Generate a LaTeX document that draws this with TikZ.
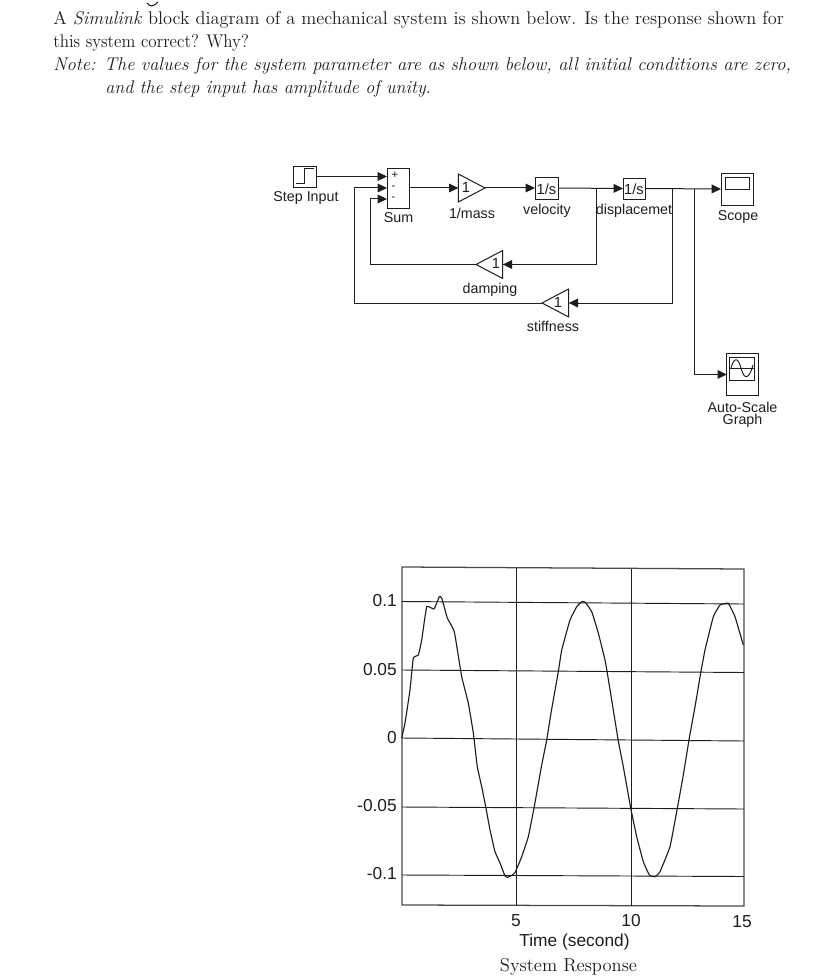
\documentclass[tikz,border=0pt]{standalone}
\usepackage{fontspec}
\usepackage{graphicx}
\usetikzlibrary{shapes.geometric,arrows.meta}
\newfontfamily\arialfont{Liberation Sans}
\definecolor{ink}{HTML}{1E1E1E}
\tikzset{
  x=0.75pt,y=-0.75pt,
  wire/.style={draw=ink,line width=0.75pt},
  flow/.style={wire,-{Triangle[length=7pt,width=6.5pt]}},
  blockbox/.style={draw=ink,line width=0.7pt,inner sep=0pt,outer sep=0pt},
  gaintri/.style={isosceles triangle,isosceles triangle stretches=true,draw=ink,line width=0.75pt,inner sep=0pt,outer sep=0pt,minimum height=20pt,minimum width=21pt,anchor=apex},
  blocktext/.style={font=\arialfont\fontsize{10.7pt}{11pt}\selectfont,text=ink,inner sep=0pt},
  inbox/.style={font=\arialfont\fontsize{11pt}{12pt}\selectfont,text=ink,inner sep=0pt},
  signtext/.style={font=\arialfont\fontsize{8.5pt}{8.5pt}\selectfont,text=ink,inner sep=0pt},
  axislabel/.style={font=\arialfont\fontsize{13pt}{14pt}\selectfont,text=ink,inner sep=0pt},
  question/.style={font=\fontsize{13.8pt}{16pt}\selectfont,text=ink,inner sep=0pt,anchor=base west},
  noteline/.style={font=\fontsize{13.8pt}{16pt}\selectfont\itshape,text=ink,inner sep=0pt,anchor=base west},
  grid line/.style={draw=ink,line width=0.7pt},
  frame line/.style={draw=ink!80,line width=0.95pt},
}
\begin{document}
\begin{tikzpicture}
\useasboundingbox[fill=white] (0,0) rectangle (838,980);
% question text
\node[question] (q1) at (53,24.5) {A \textit{Simulink} block diagram of a mechanical system is shown below. Is the response shown for};
\node[question] (q2) at (53,47.5) {\scalebox{0.925}[1]{this system correct? Why?}};
\node[noteline] (q3) at (53,71) {Note: The values for the system parameter are as shown below, all initial conditions are zero,};
\node[noteline] (q4) at (105,94) {\scalebox{0.985}[1]{and the step input has amplitude of unity.}};
\draw[ink,line width=0.8pt] (147,3) .. controls (150,7) and (153,7) .. (158,2);
% blocks
\node[blockbox,minimum width=17.25pt,minimum height=15.75pt] (step) at (304.5,176.5) {};
\draw[ink,line width=0.75pt] (296,184) -- (304.5,184) -- (304.5,169) -- (314,169);
\node[blockbox,minimum width=16.5pt,minimum height=30pt] (sum) at (398,188) {};
\node[signtext] (plus) at (395,175.5) {+};
\node[signtext] (minusa) at (393.5,187.5) {-};
\node[signtext] (minusb) at (393.5,198.5) {-};
\node[gaintri] (mass) at (485,188) {};
\node[inbox] (massk) at (466,187) {1};
\node[blockbox,minimum width=17.25pt,minimum height=16.5pt] (vel) at (546.5,188) {};
\node[inbox] (velk) at (546.5,189) {1/s};
\node[blockbox,minimum width=16.5pt,minimum height=15.75pt] (disp) at (634,188.5) {};
\node[inbox] (dispk) at (634,189.5) {1/s};
\node[gaintri,shape border rotate=180] (damp) at (476,264.5) {};
\node[inbox] (dampk) at (496,263) {1};
\node[gaintri,shape border rotate=180] (stiff) at (542,303) {};
\node[inbox] (stiffk) at (558,302) {1};
\node[blockbox,line width=0.7pt,minimum width=24pt,minimum height=24pt] (scope) at (737,189) {};
\draw[ink,line width=0.6pt] (725,177) rectangle (749,189);
\node[blockbox,line width=0.75pt,minimum width=23.5pt,minimum height=32pt] (graph) at (742.5,374.5) {};
\draw[ink,line width=0.65pt] (729,357) rectangle (754,380);
\draw[ink,line width=0.6pt] (729,368.5) -- (754,368.5);
\draw[ink,line width=0.7pt] (731,368) .. controls (734,357) and (738,357) .. (741,368) .. controls (744,380) and (749,380) .. (753,365);
% block labels
\node[blocktext] (lstep) at (306,198) {Step Input};
\node[blocktext] (lsum) at (398.5,217.5) {Sum};
\node[blocktext] (lmass) at (472,213.5) {1/mass};
\node[blocktext] (lvel) at (547,210.5) {velocity};
\node[blocktext] (ldisp) at (634,210.5) {displacemet};
\node[blocktext] (lscope) at (738,217) {Scope};
\node[blocktext] (ldamp) at (490,289.5) {damping};
\node[blocktext] (lstiff) at (553,326) {stiffness};
\node[blocktext] (lauto) at (742.5,407) {Auto-Scale};
\node[blocktext] (lgraph) at (742.5,421) {Graph};
% connector points
\coordinate (in1) at (387,176.5);
\coordinate (in2) at (387,188);
\coordinate (in3) at (387,199);
\coordinate (bv) at (596,188);
\coordinate (bd) at (672,189);
\coordinate (bg) at (694,189);
\coordinate (cd) at (370.5,199);
\coordinate (cs) at (354.5,188);
% connectors
\draw[flow] (step.east) -- (in1);
\draw[flow] (sum.east) -- (mass.lower side);
\draw[flow] (mass.apex) -- (vel.west);
\draw[flow] (vel.east) -- (disp.west);
\draw[flow] (disp.east) -- (scope.west);
\draw[flow] (bv) |- (damp.lower side);
\draw[flow] (bd) |- (stiff.lower side);
\draw[flow] (bg) |- (graph.west);
\draw[flow] (damp.apex) -| (cd) -- (in3);
\draw[flow] (stiff.apex) -| (cs) -- (in2);
% plot
\coordinate (ptl) at (402,567);
\coordinate (ptr) at (744,569);
\coordinate (pbl) at (402,905);
\coordinate (pbr) at (744,906);
\draw[frame line] (ptl) -- (ptr) -- (pbr) -- (pbl) -- cycle;
\draw[grid line] (516,567.5) -- (516,905.5);
\draw[grid line] (631,568.5) -- (631,906);
\draw[grid line] (402,601.5) -- (744,604);
\draw[grid line] (402,670) -- (744,672.5);
\draw[grid line] (402,738) -- (744,741);
\draw[grid line] (402,807) -- (744,809);
\draw[grid line] (402,875) -- (744,876.5);
\draw[ink,line width=0.85pt,line join=round] plot[smooth,tension=0.2] coordinates {
(401.7,738) (405,723) (410,690) (413.3,658) (418.3,655) (421.7,640) (426.7,606.7) (434,609) (439.3,596.7) (441.7,598) (447.3,618) (454.3,631.7) (461.7,676.7) (468.3,703) (473.3,733) (477.3,766.7) (481.7,786.7) (485.7,806.7) (490,830) (495,851.7) (500,863) (505,876) (507.3,877.3) (510.7,876) (515,872.7) (521.7,856.7) (528.3,836.7) (534,808) (541.7,765) (546.7,740) (551,713) (558.3,671.7) (561.7,650) (570,620) (576.7,606.7) (581.7,601.7) (585,602) (591.7,611.7) (598.3,633) (605,660) (607.3,673) (613.3,710) (618.3,741) (623.3,766.7) (630.7,808) (636.7,836.7) (643.3,861.7) (649.3,875) (655,876.7) (660,871.7) (670,846.7) (677.3,808.3) (683.3,775) (689.3,738) (695,706.7) (700.7,673) (705,650) (713.3,616.7) (720,605) (728.3,603.3) (735,616.7) (743.3,645)};
% axis labels
\node[axislabel,anchor=east] (y1) at (397,601) {0.1};
\node[axislabel,anchor=east] (y2) at (397,670) {0.05};
\node[axislabel,anchor=east] (y3) at (397,737.5) {0};
\node[axislabel,anchor=east] (y4) at (397,806) {-0.05};
\node[axislabel,anchor=east] (y5) at (397,874) {-0.1};
\node[axislabel] (x1) at (516,920.5) {5};
\node[axislabel] (x2) at (631,921) {10};
\node[axislabel] (x3) at (742,921.5) {15};
\node[axislabel] (xt) at (574.5,942) {Time (second)};
\node[font=\fontsize{13.95pt}{16pt}\selectfont,text=ink,inner sep=0pt,anchor=base] (cap) at (568.5,971) {System Response};
\end{tikzpicture}
\end{document}
